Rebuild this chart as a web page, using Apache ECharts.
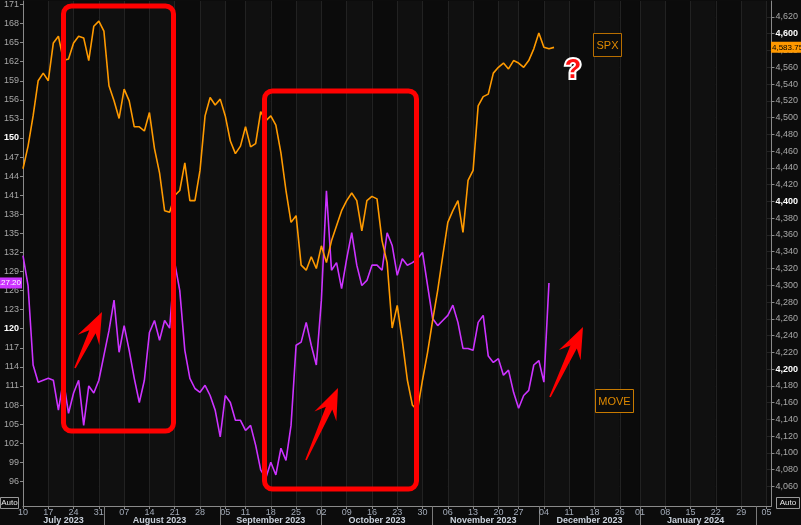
<!DOCTYPE html>
<html><head><meta charset="utf-8">
<script src="https://cdn.jsdelivr.net/npm/echarts@6/dist/echarts.min.js"></script>
<style>html,body{margin:0;padding:0;background:#0c0c0c;}#c{width:801px;height:525px;}</style>
</head><body><div id="c"></div>
<script>
// Trading calendar (weekdays minus exchange holidays shown as gaps on the chart)
const firstDay = '2023-07-10';
const lastDay = '2024-02-06';
const holidays = ['2023-09-04', '2023-11-23', '2023-12-25'];

// SPX (right axis), daily from 2023-07-10
const spx = [4439,4466,4502,4544,4553,4544,4589,4597,4568,4570,
  4589,4597,4595,4568,4609,4615,4603,4538,4520,4499,
  4534,4520,4489,4489,4484,4506,4463,4434,4389,4387,
  4407,4413,4446,4401,4401,4437,4502,4524,4515,4522,
  4502,4472,4457,4466,4489,4465,4469,4507,4496,4502,
  4491,4458,4413,4375,4383,4324,4318,4334,4320,4347,
  4327,4353,4371,4389,4401,4410,4401,4365,4401,4406,
  4403,4353,4327,4249,4276,4234,4187,4157,4151,4187,
  4220,4258,4294,4335,4375,4389,4401,4363,4425,4437,
  4514,4525,4528,4553,4560,4565,4558,4568,4565,4560,
  4568,4582,4601,4584,4582,4583.75];

// MOVE index (left axis), daily from 2023-07-10
const move = [131.5,126.8,114.3,111.6,111.9,112.2,111.9,107.2,111.9,106.7,
  109.9,111.9,104.8,111.0,109.9,111.9,115.8,119.7,124.5,116.3,
  120.5,116.6,112.2,108.4,111.9,119.4,121.3,118.2,121.3,120.1,
  130.4,126.0,116.6,112.2,110.6,110.0,111.1,109.5,107.2,103.0,
  109.5,108.4,105.6,105.6,104.0,104.8,101.7,97.8,96.5,99.0,
  97.0,101.2,99.3,104.8,117.4,117.9,121.0,117.4,114.3,124.5,
  141.7,129.2,130.4,126.3,131.0,135.1,130.0,126.8,127.6,130.0,
  130.0,129.2,135.1,133.1,128.4,131.0,130.0,130.4,131.0,132.0,
  126.8,121.6,120.5,121.3,122.1,123.7,121.0,116.9,116.9,116.6,
  121.0,122.1,115.7,114.7,115.3,112.7,113.5,110.0,107.5,109.5,
  110.3,114.3,115.0,111.6,127.2];

const moveTicks = [96,99,102,105,108,111,114,117,120,123,126,129,132,135,138,141,144,147,150,153,156,159,162,165,168,171];
const spxTicks = [4060,4080,4100,4120,4140,4160,4180,4200,4220,4240,4260,4280,4300,4320,4340,4360,4380,4400,4420,4440,4460,4480,4500,4520,4540,4560,4580,4600,4620,4640];
const monthNames = ['January','February','March','April','May','June','July','August','September','October','November','December'];
const spxLast = 4583.75;
const moveLast = 127.2;

// build category list
const cats = [];
for (let d = new Date(firstDay + 'T00:00:00Z'); d <= new Date(lastDay + 'T00:00:00Z'); d.setUTCDate(d.getUTCDate() + 1)) {
  const wd = d.getUTCDay();
  if (wd === 0 || wd === 6) continue;
  const s = d.toISOString().slice(0, 10);
  if (holidays.includes(s)) continue;
  cats.push(s);
}
const dow = s => new Date(s + 'T00:00:00Z').getUTCDay();
const weekStart = new Set();
cats.forEach((s, i) => { if (i === 0 || dow(s) < dow(cats[i - 1])) weekStart.add(i); });
const monthStart = new Set();
cats.forEach((s, i) => { if (i > 0 && s.slice(5, 7) !== cats[i - 1].slice(5, 7)) monthStart.add(i); });
const monthMid = new Set();
{
  let st = 0;
  for (let i = 1; i <= cats.length; i++) {
    if (i === cats.length || monthStart.has(i)) {
      if (i - 1 - st >= 8) monthMid.add(Math.round((st + i - 1) / 2));
      st = i;
    }
  }
}
const fmtNum = v => v.toLocaleString('en-US');

function arrow(tx, ty, px, py) {
  const dx = px - tx, dy = py - ty, L = Math.hypot(dx, dy), ux = dx / L, uy = dy / L, nx = -uy, ny = ux;
  const hl = 31, hw = 12, nk = 22, sw = 3.5, tw = 0.8;
  const bx = px - ux * hl, by = py - uy * hl, kx = px - ux * nk, ky = py - uy * nk;
  return [[tx + nx * tw, ty + ny * tw], [kx + nx * sw, ky + ny * sw], [bx + nx * hw, by + ny * hw], [px, py],
          [bx - nx * hw, by - ny * hw], [kx - nx * sw, ky - ny * sw], [tx - nx * tw, ty - ny * tw]];
}

const chart = echarts.init(document.getElementById('c'));
const axisGray = '#8a8a8a';
const baseGraphic = [
  { id: 'r1', type: 'rect', z: 100, shape: { x: 63.5, y: 6, width: 110, height: 425, r: 8 }, style: { fill: 'none', stroke: '#ff0000', lineWidth: 5 } },
  { id: 'r2', type: 'rect', z: 100, shape: { x: 264.5, y: 91, width: 152, height: 398, r: 8 }, style: { fill: 'none', stroke: '#ff0000', lineWidth: 5 } },
  { id: 'a1', type: 'polygon', z: 100, shape: { points: arrow(75, 368, 102, 312) }, style: { fill: '#ff0000' } },
  { id: 'a2', type: 'polygon', z: 100, shape: { points: arrow(306, 460, 338, 388) }, style: { fill: '#ff0000' } },
  { id: 'a3', type: 'polygon', z: 100, shape: { points: arrow(550, 397, 583, 327) }, style: { fill: '#ff0000' } },
  { id: 'q', type: 'text', z: 100, x: 573, y: 71, style: { text: '?', fill: '#ff1010', stroke: '#ffffff', lineWidth: 4, strokeFirst: true,
    font: 'bold 27px "Liberation Sans"', align: 'center', verticalAlign: 'middle' } },
  { id: 'sb', type: 'rect', z: 100, shape: { x: 593.5, y: 33.5, width: 28, height: 23 }, style: { fill: '#0c0c0c', stroke: '#b86e00', lineWidth: 1 } },
  { id: 'st', type: 'text', z: 101, x: 607.5, y: 45.5, style: { text: 'SPX', fill: '#e08a00', font: '11px "Liberation Sans"', align: 'center', verticalAlign: 'middle' } },
  { id: 'mb', type: 'rect', z: 100, shape: { x: 595.5, y: 389.5, width: 38, height: 23 }, style: { fill: '#0c0c0c', stroke: '#c87a00', lineWidth: 1 } },
  { id: 'mt', type: 'text', z: 101, x: 614.5, y: 401.5, style: { text: 'MOVE', fill: '#e08a00', font: '11px "Liberation Sans"', align: 'center', verticalAlign: 'middle' } },
  { id: 'ab1', type: 'rect', z: 100, shape: { x: 0.5, y: 497.5, width: 18, height: 11 }, style: { fill: '#0c0c0c', stroke: '#9a9a9a', lineWidth: 1 } },
  { id: 'at1', type: 'text', z: 101, x: 9.5, y: 503, style: { text: 'Auto', fill: '#e8e8e8', font: '8px "Liberation Sans"', align: 'center', verticalAlign: 'middle' } },
  { id: 'ab2', type: 'rect', z: 100, shape: { x: 776.5, y: 497.5, width: 23, height: 11 }, style: { fill: '#0c0c0c', stroke: '#9a9a9a', lineWidth: 1 } },
  { id: 'at2', type: 'text', z: 101, x: 788, y: 503, style: { text: 'Auto', fill: '#e8e8e8', font: '8px "Liberation Sans"', align: 'center', verticalAlign: 'middle' } }
];
chart.setOption({
  backgroundColor: '#0c0c0c',
  animation: false,
  textStyle: { fontFamily: 'Liberation Sans' },
  grid: { left: 23, right: 29, top: 0, bottom: 19 },
  xAxis: [{
    type: 'category', data: cats, boundaryGap: false, position: 'bottom',
    axisLine: { show: true, lineStyle: { color: axisGray } },
    axisTick: { show: true, interval: i => weekStart.has(i), length: 3, lineStyle: { color: axisGray } },
    axisLabel: { interval: i => weekStart.has(i), formatter: v => v.slice(8, 10), color: '#a3abb8', fontSize: 9, margin: 2 },
    splitLine: { show: true, interval: i => weekStart.has(i), lineStyle: { color: '#222' } },
    splitArea: { show: true, interval: i => weekStart.has(i), areaStyle: { color: ['#0b0b0b', '#101010'] } }
  }, {
    type: 'category', data: cats, boundaryGap: false, position: 'bottom',
    axisLine: { show: false },
    axisTick: { show: true, interval: i => monthStart.has(i), length: 19, lineStyle: { color: '#7a7a7a' } },
    axisLabel: { interval: i => monthMid.has(i), formatter: v => monthNames[+v.slice(5, 7) - 1] + ' ' + v.slice(0, 4),
      color: '#c9d0da', fontWeight: 'bold', fontSize: 9, margin: 10 },
    splitLine: { show: false }
  }],
  yAxis: [{
    type: 'value', position: 'left', min: 92.12, max: 171.55,
    axisLine: { show: true, lineStyle: { color: axisGray } },
    axisTick: { show: true, customValues: moveTicks, length: 3, lineStyle: { color: axisGray } },
    axisLabel: { customValues: moveTicks, color: '#a8a8a8', fontSize: 9, margin: 4,
      formatter: v => (v === 120 || v === 150) ? '{b|' + v + '}' : String(v),
      rich: { b: { color: '#ffffff', fontWeight: 'bold', fontSize: 9 } } },
    splitLine: { show: false }
  }, {
    type: 'value', position: 'right', min: 4036.7, max: 4639.05,
    axisLine: { show: true, lineStyle: { color: axisGray } },
    axisTick: { show: true, customValues: spxTicks, length: 3, lineStyle: { color: axisGray } },
    axisLabel: { customValues: spxTicks, color: '#a8a8a8', fontSize: 9, margin: 4,
      formatter: v => (v % 200 === 0) ? '{b|' + fmtNum(v) + '}' : fmtNum(v),
      rich: { b: { color: '#ffffff', fontWeight: 'bold', fontSize: 9 } } },
    splitLine: { show: true, lineStyle: { color: '#242424' } }
  }],
  series: [{
    name: 'MOVE', type: 'line', xAxisIndex: 0, yAxisIndex: 0, data: move, showSymbol: false,
    lineStyle: { color: '#cc33ff', width: 1.6 }, itemStyle: { color: '#cc33ff' }, z: 3
  }, {
    name: 'SPX', type: 'line', xAxisIndex: 0, yAxisIndex: 1, data: spx, showSymbol: false,
    lineStyle: { color: '#ff9a00', width: 1.6 }, itemStyle: { color: '#ff9a00' }, z: 4
  }],
  graphic: baseGraphic
});

// last-value tags on the axes, placed through the axes' own scales
const ySpx = chart.convertToPixel({ yAxisIndex: 1 }, spxLast);
const yMove = chart.convertToPixel({ yAxisIndex: 0 }, moveLast);
chart.setOption({
  graphic: [
    { id: 'tagS', type: 'text', z: 110, x: 771, y: ySpx, style: { text: fmtNum(spxLast), fill: '#000000', backgroundColor: '#ff9900',
      padding: [2, 1, 1, 1], font: '8px "Liberation Sans"', align: 'left', verticalAlign: 'middle' } },
    { id: 'tagM', type: 'text', z: 110, x: 22, y: yMove, style: { text: moveLast.toFixed(2), fill: '#ffffff', backgroundColor: '#cc33ff',
      padding: [2, 1, 1, 1], font: '8px "Liberation Sans"', align: 'right', verticalAlign: 'middle' } }
  ]
});
</script></body></html>
